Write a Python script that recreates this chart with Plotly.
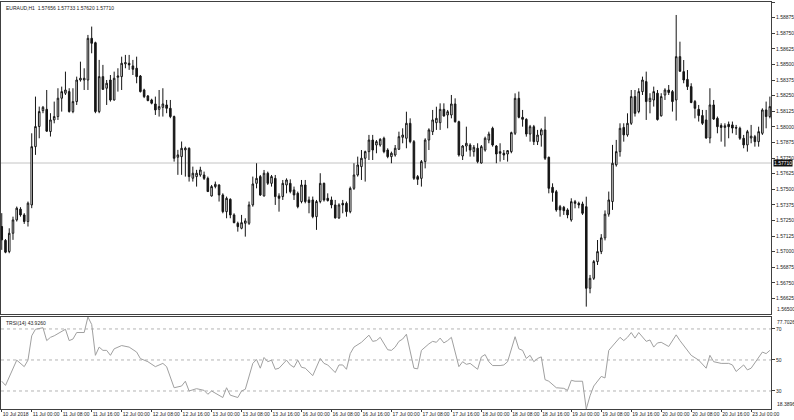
import plotly.graph_objects as go

# ---------------- data (EURAUD H1) ----------------
opens = [1.57201, 1.57090, 1.57000, 1.57147, 1.57254, 1.57340, 1.57294, 1.57241, 1.57374, 1.57841,
         1.58002, 1.58130, 1.58140, 1.57962, 1.58055, 1.58082, 1.58229, 1.58269, 1.58282, 1.58122,
         1.58202, 1.58375, 1.58375, 1.58375, 1.58709, 1.58674, 1.58122, 1.58402, 1.58309, 1.58375,
         1.58215, 1.58397, 1.58402, 1.58504, 1.58509, 1.58488, 1.58469, 1.58407, 1.58295, 1.58247,
         1.58215, 1.58183, 1.58140, 1.58156, 1.58175, 1.58148, 1.58082, 1.57756, 1.57761, 1.57815,
         1.57828, 1.57588, 1.57601, 1.57614, 1.57614, 1.57587, 1.57446, 1.57521, 1.57534, 1.57454,
         1.57320, 1.57419, 1.57294, 1.57227, 1.57187, 1.57227, 1.57227, 1.57374, 1.57547, 1.57601,
         1.57446, 1.57628, 1.57547, 1.57587, 1.57446, 1.57441, 1.57534, 1.57547, 1.57494, 1.57467,
         1.57401, 1.57534, 1.57414, 1.57414, 1.57280, 1.57401, 1.57547, 1.57427, 1.57414, 1.57374,
         1.57270, 1.57387, 1.57387, 1.57320, 1.57507, 1.57614, 1.57681, 1.57748, 1.57801, 1.57894,
         1.57854, 1.57854, 1.57908, 1.57814, 1.57761, 1.57774, 1.57820, 1.57916, 1.57908, 1.58028,
         1.57881, 1.57601, 1.57587, 1.57721, 1.57894, 1.57961, 1.58033, 1.58033, 1.58140, 1.58095,
         1.58095, 1.58183, 1.58041, 1.57766, 1.57846, 1.57854, 1.57801, 1.57828, 1.57710, 1.57814,
         1.57894, 1.57988, 1.57846, 1.57801, 1.57788, 1.57782, 1.57801, 1.57948, 1.58228, 1.58076,
         1.58060, 1.57942, 1.58001, 1.57881, 1.57934, 1.57975, 1.57756, 1.57515, 1.57480, 1.57360,
         1.57355, 1.57334, 1.57254, 1.57400, 1.57387, 1.57382, 1.57360, 1.56706, 1.56786, 1.56920,
         1.57000, 1.57110, 1.57300, 1.57401, 1.57695, 1.57801, 1.57995, 1.57935, 1.58028, 1.58242,
         1.58122, 1.58282, 1.58362, 1.58202, 1.58215, 1.58269, 1.58088, 1.58255, 1.58295, 1.58282,
         1.58215, 1.58562, 1.58442, 1.58380, 1.58322, 1.58202, 1.58140, 1.58090, 1.58055, 1.57910,
         1.58175, 1.58068, 1.58010, 1.57995, 1.58020, 1.58015, 1.57995, 1.57988, 1.57908, 1.57855,
         1.57910, 1.57921, 1.57881, 1.57948, 1.58135, 1.58082]

highs = [1.57308, 1.57100, 1.57187, 1.57280, 1.57361, 1.57356, 1.57308, 1.57401, 1.57948, 1.58242,
         1.58162, 1.58167, 1.58295, 1.58109, 1.58202, 1.58309, 1.58322, 1.58442, 1.58309, 1.58309,
         1.58402, 1.58522, 1.58469, 1.58736, 1.58803, 1.58682, 1.58536, 1.58496, 1.58375, 1.58415,
         1.58442, 1.58469, 1.58562, 1.58576, 1.58576, 1.58536, 1.58562, 1.58415, 1.58305, 1.58255,
         1.58225, 1.58242, 1.58295, 1.58309, 1.58215, 1.58215, 1.58090, 1.57815, 1.57882, 1.57841,
         1.57835, 1.57681, 1.57655, 1.57680, 1.57641, 1.57601, 1.57534, 1.57561, 1.57539, 1.57467,
         1.57441, 1.57427, 1.57307, 1.57240, 1.57294, 1.57267, 1.57401, 1.57601, 1.57708, 1.57614,
         1.57654, 1.57641, 1.57614, 1.57614, 1.57467, 1.57574, 1.57587, 1.57579, 1.57521, 1.57481,
         1.57574, 1.57574, 1.57441, 1.57441, 1.57414, 1.57628, 1.57553, 1.57467, 1.57441, 1.57414,
         1.57387, 1.57414, 1.57401, 1.57521, 1.57708, 1.57761, 1.57814, 1.57809, 1.57935, 1.57935,
         1.57894, 1.57908, 1.57921, 1.57828, 1.57801, 1.57854, 1.57961, 1.57988, 1.58121, 1.58068,
         1.57894, 1.57614, 1.57734, 1.57908, 1.57988, 1.58135, 1.58161, 1.58188, 1.58188, 1.58135,
         1.58255, 1.58228, 1.58049, 1.57854, 1.58001, 1.57868, 1.57854, 1.57868, 1.57854, 1.57921,
         1.57961, 1.58001, 1.57854, 1.57868, 1.57814, 1.57814, 1.57961, 1.58268, 1.58282, 1.58135,
         1.58068, 1.58015, 1.58015, 1.57975, 1.57988, 1.58081, 1.57761, 1.57547, 1.57494, 1.57374,
         1.57366, 1.57347, 1.57427, 1.57414, 1.57400, 1.57400, 1.57440, 1.56813, 1.56933, 1.57093,
         1.57140, 1.57330, 1.57481, 1.57855, 1.57895, 1.58028, 1.58028, 1.58108, 1.58295, 1.58295,
         1.58309, 1.58402, 1.58442, 1.58269, 1.58322, 1.58295, 1.58269, 1.58309, 1.58335, 1.58295,
         1.58896, 1.58682, 1.58535, 1.58455, 1.58349, 1.58215, 1.58175, 1.58135, 1.58135, 1.58309,
         1.58215, 1.58082, 1.58028, 1.58028, 1.58042, 1.58042, 1.58015, 1.58001, 1.57935, 1.57975,
         1.58015, 1.57935, 1.58001, 1.58148, 1.58202, 1.58242]

lows = [1.57014, 1.56987, 1.56987, 1.57094, 1.57241, 1.57280, 1.57222, 1.57201, 1.57348, 1.57775,
        1.57908, 1.58109, 1.57960, 1.57922, 1.58028, 1.58055, 1.58122, 1.58255, 1.58114, 1.58109,
        1.58175, 1.58362, 1.58295, 1.58295, 1.58589, 1.58109, 1.58109, 1.58295, 1.58175, 1.58202,
        1.58210, 1.58282, 1.58295, 1.58469, 1.58456, 1.58415, 1.58349, 1.58275, 1.58230, 1.58205,
        1.58180, 1.58095, 1.58082, 1.58082, 1.58109, 1.58069, 1.57721, 1.57615, 1.57615, 1.57601,
        1.57561, 1.57561, 1.57521, 1.57600, 1.57574, 1.57478, 1.57441, 1.57507, 1.57401, 1.57307,
        1.57267, 1.57267, 1.57227, 1.57160, 1.57179, 1.57120, 1.57214, 1.57360, 1.57507, 1.57446,
        1.57441, 1.57534, 1.57521, 1.57374, 1.57320, 1.57414, 1.57467, 1.57467, 1.57414, 1.57347,
        1.57387, 1.57387, 1.57307, 1.57267, 1.57174, 1.57387, 1.57401, 1.57401, 1.57347, 1.57265,
        1.57262, 1.57307, 1.57280, 1.57307, 1.57494, 1.57601, 1.57574, 1.57561, 1.57734, 1.57734,
        1.57788, 1.57841, 1.57788, 1.57748, 1.57708, 1.57761, 1.57814, 1.57868, 1.57828, 1.57868,
        1.57574, 1.57534, 1.57521, 1.57667, 1.57814, 1.57934, 1.57975, 1.57975, 1.58081, 1.57988,
        1.58068, 1.58033, 1.57761, 1.57734, 1.57801, 1.57761, 1.57761, 1.57708, 1.57705, 1.57801,
        1.57868, 1.57841, 1.57708, 1.57721, 1.57734, 1.57721, 1.57788, 1.57934, 1.58068, 1.58001,
        1.57921, 1.57881, 1.57854, 1.57854, 1.57841, 1.57734, 1.57467, 1.57400, 1.57320, 1.57280,
        1.57294, 1.57267, 1.57240, 1.57347, 1.57347, 1.57294, 1.56559, 1.56666, 1.56773, 1.56893,
        1.56980, 1.57090, 1.57280, 1.57334, 1.57681, 1.57761, 1.57881, 1.57921, 1.58015, 1.58082,
        1.58108, 1.58255, 1.58055, 1.58108, 1.58162, 1.58050, 1.58082, 1.58215, 1.58255, 1.58122,
        1.58050, 1.58442, 1.58349, 1.58295, 1.58189, 1.58068, 1.58042, 1.58015, 1.57905, 1.57868,
        1.58055, 1.57948, 1.57881, 1.57841, 1.57908, 1.57948, 1.57935, 1.57895, 1.57828, 1.57801,
        1.57868, 1.57841, 1.57841, 1.57935, 1.57988, 1.58068]

closes = [1.57094, 1.56995, 1.57147, 1.57254, 1.57348, 1.57294, 1.57241, 1.57388, 1.57841, 1.58002,
          1.58122, 1.58156, 1.57965, 1.58055, 1.58082, 1.58229, 1.58282, 1.58295, 1.58122, 1.58202,
          1.58375, 1.58389, 1.58389, 1.58709, 1.58669, 1.58122, 1.58402, 1.58300, 1.58349, 1.58215,
          1.58389, 1.58407, 1.58509, 1.58514, 1.58496, 1.58461, 1.58402, 1.58282, 1.58242, 1.58210,
          1.58189, 1.58135, 1.58162, 1.58183, 1.58148, 1.58082, 1.57748, 1.57775, 1.57828, 1.57828,
          1.57601, 1.57628, 1.57628, 1.57654, 1.57587, 1.57481, 1.57521, 1.57539, 1.57454, 1.57320,
          1.57427, 1.57294, 1.57232, 1.57200, 1.57232, 1.57246, 1.57374, 1.57542, 1.57587, 1.57454,
          1.57628, 1.57547, 1.57601, 1.57441, 1.57427, 1.57547, 1.57574, 1.57481, 1.57454, 1.57360,
          1.57534, 1.57401, 1.57393, 1.57280, 1.57401, 1.57547, 1.57414, 1.57409, 1.57374, 1.57270,
          1.57374, 1.57374, 1.57320, 1.57507, 1.57614, 1.57694, 1.57748, 1.57801, 1.57894, 1.57814,
          1.57881, 1.57900, 1.57801, 1.57761, 1.57788, 1.57828, 1.57921, 1.57934, 1.58028, 1.57881,
          1.57587, 1.57579, 1.57721, 1.57894, 1.57975, 1.58055, 1.58068, 1.58140, 1.58087, 1.58121,
          1.58183, 1.58041, 1.57774, 1.57846, 1.57868, 1.57814, 1.57836, 1.57721, 1.57841, 1.57908,
          1.57942, 1.57854, 1.57782, 1.57788, 1.57774, 1.57809, 1.57953, 1.58228, 1.58076, 1.58060,
          1.57942, 1.58001, 1.57881, 1.57934, 1.57975, 1.57748, 1.57507, 1.57473, 1.57334, 1.57334,
          1.57328, 1.57294, 1.57400, 1.57387, 1.57374, 1.57307, 1.56706, 1.56786, 1.56920, 1.57000,
          1.57110, 1.57300, 1.57414, 1.57708, 1.57801, 1.57988, 1.57935, 1.58028, 1.58242, 1.58108,
          1.58282, 1.58375, 1.58202, 1.58229, 1.58282, 1.58058, 1.58242, 1.58295, 1.58275, 1.58202,
          1.58562, 1.58445, 1.58375, 1.58322, 1.58195, 1.58148, 1.58090, 1.58028, 1.57910, 1.58175,
          1.58062, 1.58001, 1.57995, 1.58008, 1.58001, 1.57990, 1.57990, 1.57908, 1.57855, 1.57961,
          1.57925, 1.57881, 1.57961, 1.58135, 1.58082, 1.58162]

bar_index = list(range(len(opens)))

# time-axis labels (one every 8 hourly bars)
time_tick_bars = [0, 8, 16, 24, 32, 40, 48, 56, 64, 72, 80, 88, 96, 104, 112, 120, 128,
                  136, 144, 152, 160, 168, 176, 184, 192, 200]
time_tick_labels = ["10 Jul 2018", "11 Jul 00:00", "11 Jul 08:00", "11 Jul 16:00",
                    "12 Jul 00:00", "12 Jul 08:00", "12 Jul 16:00", "13 Jul 00:00",
                    "13 Jul 08:00", "13 Jul 16:00", "16 Jul 00:00", "16 Jul 08:00",
                    "16 Jul 16:00", "17 Jul 00:00", "17 Jul 08:00", "17 Jul 16:00",
                    "18 Jul 00:00", "18 Jul 08:00", "18 Jul 16:00", "19 Jul 00:00",
                    "19 Jul 08:00", "19 Jul 16:00", "20 Jul 00:00", "20 Jul 08:00",
                    "20 Jul 16:00", "23 Jul 00:00"]

price_ticks = [1.56625, 1.56750, 1.56875, 1.57000, 1.57125, 1.57250, 1.57375, 1.57500,
               1.57625, 1.57750, 1.57875, 1.58000, 1.58125, 1.58250, 1.58375, 1.58500,
               1.58625, 1.58750, 1.58875, 1.59000]
price_min, price_max = 1.56500, 1.59000
bid_price = 1.57710

# RSI(14)
rsi_bar = [0, 1, 4, 6, 7, 8, 9, 11, 12, 13, 14, 16, 17, 18, 19, 20, 22, 23, 24, 25, 26, 27, 28, 29,
           30, 32, 34, 36, 37, 39, 41, 43, 44, 46, 48, 49, 50, 52, 54, 55, 56, 59, 60, 61, 63, 64,
           65, 67, 68, 69, 70, 71, 72, 73, 74, 76, 77, 78, 79, 80, 81, 83, 85, 86, 87, 89, 90, 91,
           92, 93, 94, 96, 97, 98, 99, 100, 101, 103, 104, 105, 106, 107, 108, 110, 111, 112, 114,
           115, 116, 117, 118, 119, 120, 122, 123, 124, 125, 127, 128, 129, 130, 131, 133, 134,
           135, 137, 138, 139, 140, 141, 142, 143, 144, 145, 146, 148, 150, 151, 152, 153, 155,
           156, 157, 158, 160, 161, 162, 164, 165, 166, 167, 168, 169, 170, 172, 173, 174, 175,
           176, 178, 180, 181, 182, 183, 184, 186, 188, 189, 190, 192, 194, 195, 196, 198, 199,
           200, 203, 204, 205]
rsi_val = [36.3, 33.6, 49.9, 45.7, 49.9, 65.6, 69.8, 70.8, 62.5, 64.6, 65.6, 68.7, 69.8, 62.5, 63.5,
           67.7, 67.7, 77.7, 72.9, 53.0, 58.3, 56.2, 56.2, 53.0, 57.2, 59.3, 58.3, 55.1, 50.9, 48.9,
           45.7, 47.8, 45.7, 32.1, 33.2, 36.3, 30.0, 31.5, 30.4, 27.9, 30.0, 25.8, 32.1, 27.3, 25.8,
           30.0, 31.1, 47.8, 50.3, 44.7, 51.6, 48.9, 49.9, 44.0, 44.7, 49.9, 46.8, 45.3, 49.9, 45.3,
           44.7, 39.9, 51.0, 47.8, 46.8, 41.9, 46.8, 46.8, 44.0, 54.1, 58.3, 61.4, 63.5, 66.0, 62.0,
           62.5, 64.6, 56.6, 56.2, 58.3, 62.0, 63.5, 66.6, 44.7, 44.3, 56.2, 60.4, 62.0, 61.4, 64.1,
           61.0, 62.5, 64.6, 45.7, 48.9, 47.2, 47.8, 44.0, 52.0, 53.5, 48.9, 46.4, 46.4, 46.8, 48.9,
           65.0, 57.2, 56.2, 51.0, 53.0, 48.9, 51.0, 52.0, 37.3, 36.3, 32.1, 31.7, 30.4, 36.9, 36.3,
           36.3, 18.39, 26.9, 33.2, 39.4, 38.4, 56.2, 61.4, 64.6, 62.5, 64.6, 67.7, 64.1, 67.7, 62.0,
           62.9, 58.3, 61.0, 61.4, 58.7, 66.2, 62.5, 59.3, 56.2, 53.0, 49.9, 44.7, 53.0, 48.9, 47.8,
           47.8, 46.8, 42.6, 46.8, 43.6, 44.7, 55.1, 54.1, 56.2]
rsi_min, rsi_max = 18.3896, 77.7026
rsi_levels = [30, 50, 70]

chart_title = "EURAUD,H1  1.57656 1.57733 1.57620 1.57710"
rsi_title = "TRSI(14) 43.9260"

# ---------------- figure ----------------
FONT = "Liberation Sans Narrow, Liberation Sans, Arial"
AX = "#404040"
TF = dict(family=FONT, size=5, color="#222")

fig = go.Figure()
fig.add_trace(go.Candlestick(
    x=bar_index, open=opens, high=highs, low=lows, close=closes,
    xaxis="x", yaxis="y",
    increasing=dict(line=dict(color="#151515", width=1), fillcolor="#ffffff"),
    decreasing=dict(line=dict(color="#151515", width=1), fillcolor="#151515"),
    whiskerwidth=0, showlegend=False, hoverinfo="skip"))

fig.add_trace(go.Scatter(
    x=rsi_bar, y=rsi_val, xaxis="x2", yaxis="y2", mode="lines",
    line=dict(color="#a0a0a0", width=1), showlegend=False, hoverinfo="skip"))

xr = [-0.2, 205.3]
common_axis = dict(showgrid=False, zeroline=False, showline=True, linecolor=AX,
                   linewidth=1, mirror=True, automargin=False)

fig.update_layout(
    width=794, height=420,
    margin=dict(l=1, r=23, t=2, b=11),
    paper_bgcolor="white", plot_bgcolor="white",
    showlegend=False, boxgap=0.4,
    xaxis=dict(domain=[0, 1], range=xr, anchor="y", showticklabels=False, ticks="",
               rangeslider=dict(visible=False), **common_axis),
    yaxis=dict(domain=[0.2334, 1], range=[price_min, price_max], side="right", anchor="x",
               tickvals=price_ticks, tickformat=".5f", ticks="outside", ticklen=3,
               tickcolor=AX, tickfont=TF, **common_axis),
    xaxis2=dict(domain=[0, 1], range=xr, anchor="y2", tickvals=time_tick_bars,
                ticktext=time_tick_labels, ticks="outside", ticklen=2, tickcolor=AX,
                tickangle=0, ticklabelposition="outside right", tickfont=TF,
                **common_axis),
    yaxis2=dict(domain=[0, 0.226], range=[rsi_min, rsi_max], side="right", anchor="x2",
                tickvals=rsi_levels, ticktext=[str(v) for v in rsi_levels],
                ticks="outside", ticklen=3, tickcolor=AX, tickfont=TF, **common_axis),
)

shapes = [dict(type="line", xref="x domain", yref="y", x0=0, x1=1, y0=bid_price, y1=bid_price,
               line=dict(color="#c4c4c4", width=1), layer="below")]
for lv in rsi_levels:
    shapes.append(dict(type="line", xref="x2 domain", yref="y2", x0=0, x1=1, y0=lv, y1=lv,
                       line=dict(color="#b4b4b4", width=1, dash="dot"), layer="below"))
fig.update_layout(shapes=shapes)

ann = [
    dict(text=chart_title, xref="paper", yref="paper", x=0.004, y=0.997, xanchor="left",
         yanchor="top", showarrow=False, font=TF),
    dict(text=rsi_title, xref="paper", yref="y2 domain", x=0.004, y=0.985, xanchor="left",
         yanchor="top", showarrow=False, font=TF),
    dict(text=f"{bid_price:.5f}", xref="paper", yref="y", x=1, xshift=2, y=bid_price,
         xanchor="left", yanchor="middle", showarrow=False,
         font=dict(family=FONT, size=5, color="white"), bgcolor="#111", borderpad=0),
    dict(text=f"{price_min:.5f}", xref="paper", yref="y", x=1, xshift=4, y=price_min,
         xanchor="left", yanchor="bottom", showarrow=False, font=TF),
    dict(text=f"{rsi_max:.4f}", xref="paper", yref="y2", x=1, xshift=4, y=rsi_max,
         xanchor="left", yanchor="top", showarrow=False, font=TF),
    dict(text=f"{rsi_min:.4f}", xref="paper", yref="y2", x=1, xshift=4, y=rsi_min,
         xanchor="left", yanchor="bottom", showarrow=False, font=TF),
]
fig.update_layout(annotations=ann)

fig.write_html(
    "out.html",
    config={"displayModeBar": False},
    post_script="document.body.style.margin='0';document.body.style.padding='0';"
                "document.documentElement.style.overflow='hidden';",
)
